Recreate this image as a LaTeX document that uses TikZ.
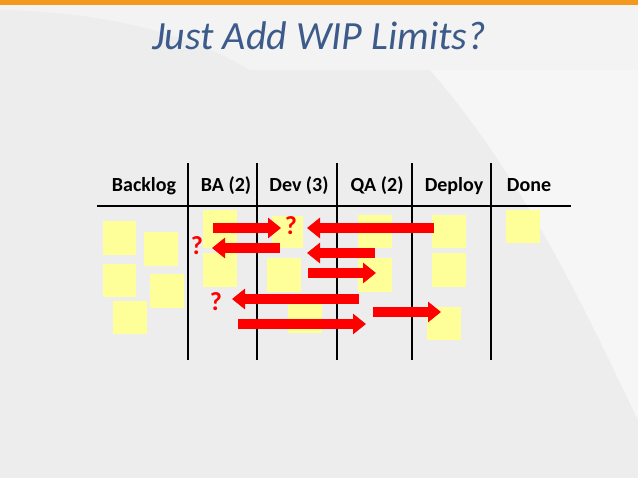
\documentclass[tikz,border=0pt]{standalone}
\usepackage{fontspec}
\setmainfont{Carlito}
\usetikzlibrary{arrows.meta}
\definecolor{bg}{HTML}{EDEDED}
\definecolor{sticky}{HTML}{FFFF99}
\definecolor{ttl}{HTML}{3C5A8A}
\definecolor{orng}{HTML}{F39A1E}
\tikzset{
  stk/.style={fill=sticky, draw=none},
  bar/.style={line width=2pt, black},
  rarrow/.style={draw=red, line width=10pt, -{Triangle[length=13pt,width=20pt]}},
  hdr/.style={font=\bfseries\fontsize{20}{22}\selectfont, anchor=base},
  qm/.style={text=red, font=\bfseries\fontsize{26}{28}\selectfont}
}
\begin{document}
\begin{tikzpicture}[x=1pt,y=-1pt]
\useasboundingbox (0,0) rectangle (638,478);
\fill[bg] (0,0) rectangle (638,478);
\fill[white!50!bg] (360,0) .. controls (500,120) and (580,300) .. (638,420) -- (638,0) -- cycle;
\fill[white!35!bg] (0,10) .. controls (120,12) and (200,40) .. (250,70) -- (638,70) -- (638,0) -- (0,0) -- cycle;
\fill[orng] (0,0) rectangle (638,5);
\node[text=ttl, font=\itshape\fontsize{40}{44}\selectfont] (title) at (319,36) {Just Add WIP Limits?};
% stickies
\fill[stk] (103,221) rectangle (136,255);
\fill[stk] (144,232) rectangle (178,266);
\fill[stk] (103,264) rectangle (136,297);
\fill[stk] (150,274) rectangle (184,308);
\fill[stk] (113,301) rectangle (147,334);
\fill[stk] (203,210) rectangle (237,248);
\fill[stk] (203,253) rectangle (237,287);
\fill[stk] (272,216) rectangle (303,248);
\fill[stk] (267,258) rectangle (301,292);
\fill[stk] (288,303) rectangle (322,333);
\fill[stk] (358,215) rectangle (392,248);
\fill[stk] (358,258) rectangle (392,292);
\fill[stk] (432,215) rectangle (466,248);
\fill[stk] (432,253) rectangle (466,287);
\fill[stk] (427,307) rectangle (461,340);
\fill[stk] (506,210) rectangle (540,243);
% grid
\draw[bar] (97,206) -- (571,206);
\foreach \x in {188,257,337,412,491} \draw[bar] (\x,163) -- (\x,360);
\node[hdr] (h1) at (144,192) {Backlog};
\node[hdr] (h2) at (226,192) {BA (2)};
\node[hdr] (h3) at (299,192) {Dev (3)};
\node[hdr] (h4) at (377,192) {QA (2)};
\node[hdr] (h5) at (454,192) {Deploy};
\node[hdr] (h6) at (529,192) {Done};
% arrows
\coordinate (a1s) at (213,228); \coordinate (a1e) at (281,228);
\coordinate (a2s) at (280,248); \coordinate (a2e) at (212,248);
\coordinate (a3s) at (434,228); \coordinate (a3e) at (307,228);
\coordinate (a4s) at (375,253); \coordinate (a4e) at (307,253);
\coordinate (a5s) at (308,273); \coordinate (a5e) at (376,273);
\coordinate (a6s) at (359,299); \coordinate (a6e) at (232,299);
\coordinate (a7s) at (373,312); \coordinate (a7e) at (441,312);
\coordinate (a8s) at (238,324); \coordinate (a8e) at (366,324);
\foreach \i in {1,...,8} \draw[rarrow] (a\i s) -- (a\i e);
\node[qm] (q1) at (291,226) {?};
\node[qm] (q2) at (197,246) {?};
\node[qm] (q3) at (216,302) {?};
\end{tikzpicture}
\end{document}
